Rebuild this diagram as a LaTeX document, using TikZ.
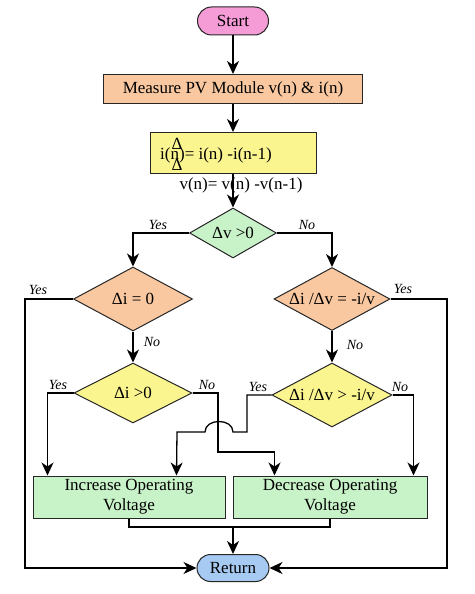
\documentclass[tikz,border=0pt]{standalone}
\usepackage{fontspec}
\setmainfont{Liberation Serif}
\usetikzlibrary{shapes.geometric,shapes.misc,arrows.meta,calc}
\definecolor{pinkc}{HTML}{F59CD6}
\definecolor{orangec}{HTML}{F9C8A0}
\definecolor{yellowc}{HTML}{FBF590}
\definecolor{greenc}{HTML}{C8F2C8}
\definecolor{bluec}{HTML}{A6CAF2}
\tikzset{
  base/.style={draw=black!85, line width=1pt, font=\fontsize{17}{20}\selectfont, inner sep=0pt},
  pill/.style={base, rounded rectangle, minimum width=71pt, minimum height=28pt},
  procbox/.style={base, rectangle},
  decision/.style={base, diamond},
  txt/.style={font=\fontsize{17}{20}\selectfont, inner sep=0pt},
  lbl/.style={font=\itshape\fontsize{14}{16}\selectfont, inner sep=0pt},
  conn/.style={line width=1.3pt},
  arr/.style={conn, -{Stealth[length=13pt,width=12pt,inset=4pt]}},
}
\begin{document}
\begin{tikzpicture}[x=1pt,y=-1pt]
\useasboundingbox (0,0) rectangle (474,594);
% nodes
\node[pill, fill=pinkc] (start) at (233,21) {Start};
\node[procbox, fill=orangec, minimum width=259pt, minimum height=29pt] (measure) at (233,89) {Measure PV Module v(n) \& i(n)};
\node[procbox, fill=yellowc, minimum width=166pt, minimum height=41pt] (calc) at (233,153) {};
\node[txt, anchor=west] (ieq) at (160,155) {i(n)= i(n) -i(n-1)};
\node[txt] (da) at (177,144) {Δ};
\node[txt] (db) at (177,165) {Δ};
\node[txt] (veq) at (241,185) {v(n)= v(n) -v(n-1)};
\node[decision, fill=greenc, minimum width=87pt, minimum height=50pt] (dv) at (233,233) {\makebox[0pt]{Δv >0}};
\node[decision, fill=orangec, minimum width=119pt, minimum height=64pt] (di0) at (133,299) {\makebox[0pt]{Δi = 0}};
\node[decision, fill=orangec, minimum width=116pt, minimum height=63pt] (dr) at (332,299) {\makebox[0pt]{Δi /Δv = -i/v}};
\node[decision, fill=yellowc, minimum width=118pt, minimum height=60pt] (dip) at (133,393) {\makebox[0pt]{Δi >0}};
\node[decision, fill=yellowc, minimum width=120pt, minimum height=64pt] (drp) at (332,395) {\makebox[0pt]{Δi /Δv > -i/v}};
\node[procbox, fill=greenc, minimum width=192pt, minimum height=42pt, align=center] (inc) at (129,497) {Increase Operating\\Voltage};
\node[procbox, fill=greenc, minimum width=194pt, minimum height=42pt, align=center] (dec) at (330,497) {Decrease Operating\\Voltage};
\node[pill, fill=bluec, minimum width=72pt, minimum height=27pt] (ret) at (233,568) {Return};
% helper coordinates
\coordinate (lft) at (25,568);
\coordinate (rgt) at (447,568);
\coordinate (merge) at (233,527);
% connectors
\draw[arr] (start) -- (measure);
\draw[arr] (measure) -- (calc);
\draw[arr] (calc.south) -- (dv.north);
\draw[arr] (dv.west) -| (di0.north);
\draw[arr] (dv.east) -| (dr.north);
\draw[arr] (di0.west) -| (lft) -- (ret.west);
\draw[arr] (dr.east) -| (rgt) -- (ret.east);
\draw[arr] (di0.south) -- (dip.north);
\draw[arr] (dr.south) -- (drp.north);
\draw[arr] (dip.west) -| ([xshift=15pt]inc.north west);
\draw[arr] (dip.east) -- (218,393) -- (218,452) -| ([xshift=42pt]dec.north west);
\draw[arr] (drp.west) -- (247,395) -- (247,432) -- (233,432)
   .. controls (233,418) and (205,418) .. (205,432) -- (177,432) -- ([xshift=144pt]inc.north west);
\draw[arr] (drp.east) -| ([xshift=-14pt]dec.north east);
\draw[conn] (inc.south) |- (merge) -| (dec.south);
\draw[arr] (merge) -- (ret.north);
% labels
\node[lbl] (l1) at (158,225) {Yes};
\node[lbl] (l2) at (307,225) {No};
\node[lbl] (l3) at (38,290) {Yes};
\node[lbl] (l4) at (403,289) {Yes};
\node[lbl] (l5) at (152,342) {No};
\node[lbl] (l6) at (355,345) {No};
\node[lbl] (l7) at (58,385) {Yes};
\node[lbl] (l8) at (207,385) {No};
\node[lbl] (l9) at (258,387) {Yes};
\node[lbl] (l10) at (400,387) {No};
\end{tikzpicture}
\end{document}
